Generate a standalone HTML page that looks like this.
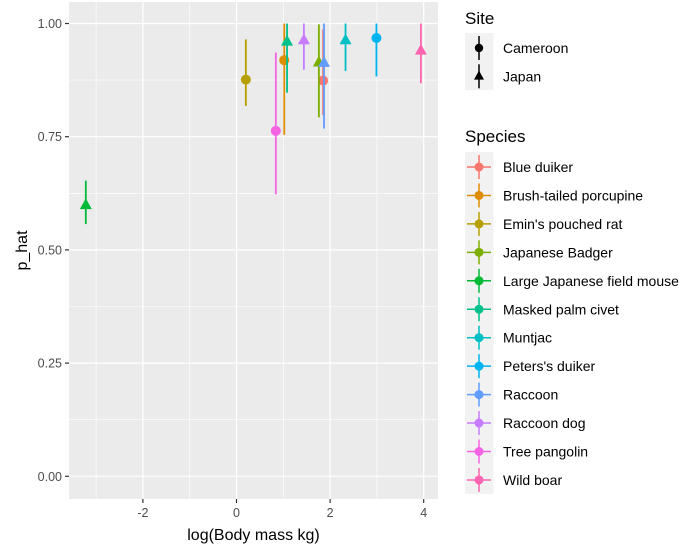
<!DOCTYPE html>
<html><head><meta charset="utf-8"><style>
body{margin:0;background:#fff;font-family:"Liberation Sans",Arial,sans-serif}
svg text{font-family:"Liberation Sans",Arial,sans-serif}
</style></head><body>
<svg id="c" width="685" height="548" xmlns="http://www.w3.org/2000/svg"></svg>
<script>
const species=["Blue duiker","Brush-tailed porcupine","Emin's pouched rat","Japanese Badger","Large Japanese field mouse","Masked palm civet","Muntjac","Peters's duiker","Raccoon","Raccoon dog","Tree pangolin","Wild boar"];
const colors=["#F8766D","#DE8C00","#B79F00","#7CAE00","#00BA38","#00C08B","#00BFC4","#00B4F0","#619CFF","#C77CFF","#F564E3","#FF64B0"];
const sites=["Cameroon","Cameroon","Cameroon","Japan","Japan","Japan","Japan","Cameroon","Japan","Japan","Cameroon","Japan"];
const logMass=[1.85,1.02,0.20,1.76,-3.22,1.08,2.33,2.99,1.87,1.44,0.84,3.94];
const pHat=[0.874,0.919,0.876,0.914,0.599,0.960,0.963,0.968,0.913,0.963,0.763,0.940];
const lower=[0.798,0.754,0.818,0.793,0.557,0.847,0.895,0.883,0.768,0.898,0.623,0.868];
const upper=[0.987,1.0,0.965,0.998,0.653,1.0,1.0,1.0,1.0,1.0,0.936,1.0];
const xTicks=[-2,0,2,4];
const yTicks=[0,0.25,0.5,0.75,1.0];
const yTickLabels=["0.00","0.25","0.50","0.75","1.00"];

const NS="http://www.w3.org/2000/svg";
const svg=document.getElementById('c');
function mk(t,a,p){const e=document.createElementNS(NS,t);for(const k in a)e.setAttribute(k,a[k]);(p||svg).appendChild(e);return e;}
const L=69,R=438,T=2,B=499;
const sx=v=>236.5+46.8*v;
const sy=v=>476.3-452.8*v;

const panel=mk('rect',{x:L,y:T,width:R-L,height:B-T,fill:'#EBEBEB'});


// minor grid
for(let i=0;i<xTicks.length+1;i++){const v=xTicks[0]-1+2*i;const x=sx(v);if(x>L&&x<R)mk('line',{x1:x,x2:x,y1:T,y2:B,stroke:'#fff','stroke-width':0.6});}
for(let i=0;i<yTicks.length-1;i++){const v=yTicks[i]+0.125;mk('line',{x1:L,x2:R,y1:sy(v),y2:sy(v),stroke:'#fff','stroke-width':0.6});}
// major grid + ticks
xTicks.forEach(v=>{const x=sx(v);
 mk('line',{x1:x,x2:x,y1:T,y2:B,stroke:'#fff','stroke-width':1.2});
 mk('line',{x1:x,x2:x,y1:B,y2:B+4,stroke:'#333','stroke-width':1.2});
 const t=mk('text',{x:x,y:B+18,'text-anchor':'middle','font-size':12.5,fill:'#4D4D4D'});t.textContent=v;
 
 
});
yTicks.forEach((v,i)=>{const y=sy(v);
 mk('line',{x1:L,x2:R,y1:y,y2:y,stroke:'#fff','stroke-width':1.2});
 mk('line',{x1:L-4,x2:L,y1:y,y2:y,stroke:'#333','stroke-width':1.2});
 const t=mk('text',{x:L-7,y:y+4.5,'text-anchor':'end','font-size':12.5,fill:'#4D4D4D'});t.textContent=yTickLabels[i];
 
 
});
const xt=mk('text',{x:(L+R)/2,y:540,'text-anchor':'middle','font-size':16,fill:'#000'});xt.textContent='log(Body mass kg)';


const yt=mk('text',{x:0,y:0,'text-anchor':'middle','font-size':16,fill:'#000',transform:`translate(27,${(T+B)/2}) rotate(-90)`});yt.textContent='p_hat';



function marker(g,shape,x,y,col,s){
 if(shape==='Cameroon')mk('circle',{cx:x,cy:y,r:s,fill:col},g);
 else mk('polygon',{points:`${x},${y-s*1.35} ${x-s*1.2},${y+s*0.8} ${x+s*1.2},${y+s*0.8}`,fill:col},g);
}
species.forEach((n,i)=>{
 const g=mk('g',{});
 
 
 const x=sx(logMass[i]);
 mk('line',{x1:x,x2:x,y1:sy(lower[i]),y2:sy(upper[i]),stroke:colors[i],'stroke-width':1.8},g);
 marker(g,sites[i],x,sy(pHat[i]),colors[i],5);
});

// legend
function txt(x,y,s,size,name){const t=mk('text',{x:x,y:y,'font-size':size,fill:'#000'});t.textContent=s;
 
 return t;}
txt(465,24,'Site',17,'site-legend-title');
mk('rect',{x:465,y:33,width:28.5,height:57,fill:'#F2F2F2'});
sites.filter((v,i,a)=>a.indexOf(v)===i).forEach((s,i)=>{
 const g=mk('g',{});
 
 
 const cy=48+28.3*i;
 mk('line',{x1:479,x2:479,y1:cy-12,y2:cy+12,stroke:'#000','stroke-width':1.5},g);
 marker(g,s,479,cy,'#000',4.2);
 txt(503,cy+5,s,14,'legend-site-label');
});
txt(465,142,'Species',17,'species-legend-title');
mk('rect',{x:465,y:152,width:28.5,height:342,fill:'#F2F2F2'});
species.forEach((n,i)=>{
 const g=mk('g',{});
 
 
 const cy=167+28.45*i;
 mk('line',{x1:479,x2:479,y1:cy-12,y2:cy+12,stroke:colors[i],'stroke-width':1.5},g);
 mk('line',{x1:467,x2:491,y1:cy,y2:cy,stroke:colors[i],'stroke-width':1.5},g);
 mk('circle',{cx:479,cy:cy,r:4.5,fill:colors[i]},g);
 txt(503,cy+5,n,14,'legend-species-label');
});
</script>
</body></html>
